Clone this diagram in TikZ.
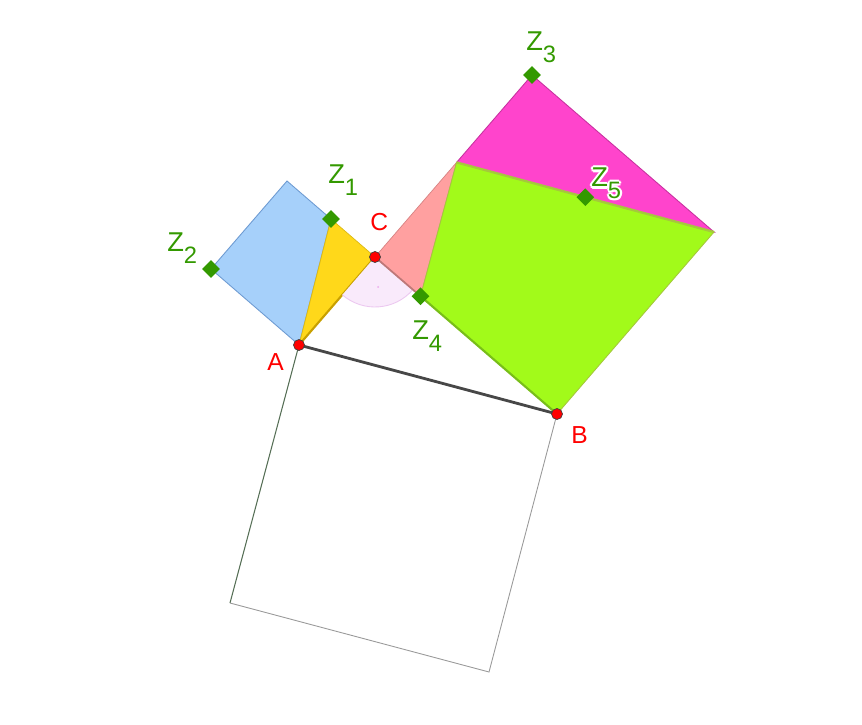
\documentclass[tikz,border=0pt]{standalone}
\usepackage{fontspec}
\setmainfont{Liberation Sans}
\usetikzlibrary{shapes.geometric}

\definecolor{zgreen}{RGB}{51,153,0}
\definecolor{sqblue}{RGB}{166,208,250}
\definecolor{sqblueedge}{RGB}{110,155,210}
\definecolor{sqyellow}{RGB}{255,216,26}
\definecolor{sqyellowedge}{RGB}{220,185,20}
\definecolor{sqgold}{RGB}{200,160,0}
\definecolor{sqpink}{RGB}{255,160,160}
\definecolor{sqpinkedge}{RGB}{215,130,130}
\definecolor{sqrose}{RGB}{190,120,120}
\definecolor{sqmagenta}{RGB}{255,68,204}
\definecolor{sqmagentaedge}{RGB}{200,50,160}
\definecolor{sqlime}{RGB}{162,250,26}
\definecolor{sqlimeedge}{RGB}{165,200,60}
\definecolor{sqlimedark}{RGB}{120,190,25}
\definecolor{sector}{RGB}{249,234,251}
\definecolor{sectoredge}{RGB}{236,200,240}
\definecolor{sectordot}{RGB}{236,170,236}
\definecolor{sideAE}{RGB}{85,110,85}

\newcommand{\zsub}[1]{Z\raisebox{-6.6pt}{\fontsize{13.5}{14}\selectfont #1}}
\newcommand{\halo}[1]{%
    \makebox[0pt][l]{\color{white}%
        \foreach \hx/\hy in {1.2/0,-1.2/0,0/1.2,0/-1.2,.85/.85,-.85/.85,.85/-.85,-.85/-.85} {%
            \makebox[0pt][l]{\hspace*{\hx pt}\raisebox{\hy pt}{#1}}}}%
    #1}

\begin{document}
\begin{tikzpicture}[x=0.02cm,y=0.02cm,
    pt/.style={circle,fill=red,draw=black!75,line width=0.4pt,inner sep=0,minimum size=0.22cm},
    zpt/.style={diamond,fill=zgreen,inner sep=0,minimum size=0.36cm},
    zlab/.style={text=zgreen,anchor=base west,inner sep=0,font=\fontsize{15.5}{16}\selectfont},
    plab/.style={text=red,anchor=base west,inner sep=0,font=\fontsize{14}{15}\selectfont}]
    \useasboundingbox (0,0) rectangle (862,724);

    \coordinate (A) at (299,379);
    \coordinate (B) at (557,310);
    \coordinate (C) at (375,467);
    \coordinate (D) at (489,52);
    \coordinate (E) at (230,121);
    \coordinate (P) at (287,543);
    \coordinate (Q) at (714,492);
    \coordinate (R) at (456.6,561.6);

    \draw[color=gray!80,line width=0.5pt] (E) to (D) to (B);
    \draw[color=sideAE,line width=0.6pt] (A) to (E);

    \filldraw[fill=sqblue,draw=sqblueedge,line width=0.5pt] (A) -- (211,455) -- (P) -- (331,505) -- cycle;
    \filldraw[fill=sqyellow,draw=sqyellowedge,line width=0.4pt] (A) -- (331,505) -- (C) -- cycle;
    \draw[color=sqgold,line width=1.2pt] (A) to (C);

    \fill[sector] (C) -- ++(229.2:50) arc[start angle=229.2,end angle=319.2,radius=50] -- cycle;
    \draw[color=sectoredge,line width=0.5pt] ([shift={(229.2:50)}]C) arc[start angle=229.2,end angle=319.2,radius=50];
    \fill[sectordot] (378,437) circle (1);

    \filldraw[fill=sqpink,draw=sqpinkedge,line width=0.4pt] (C) -- (R) -- (420.5,427.8) -- cycle;
    \draw[color=sqrose,line width=1pt] (C) to (420.5,427.8);
    \filldraw[fill=sqmagenta,draw=sqmagentaedge,line width=0.5pt] (R) -- (532,649) -- (Q) -- cycle;
    \filldraw[fill=sqlime,draw=sqlimeedge,line width=0.5pt] (R) -- (Q) -- (B) -- (420.5,427.8) -- cycle;
    \draw[color=sqlimeedge,line width=1.3pt] (R) to (Q);
    \draw[color=sqlimedark,line width=1.2pt] (420.5,427.8) to (B);

    \draw[color=black!72,line width=1.6pt] (A) to (B);

    \foreach \n/\x/\y in {1/331/505,2/211/455,3/532/649,4/420.5/427.8,5/585.3/526.8} {
        \node[zpt] (Z\n) at (\x,\y) {};
    }
    \node[pt] (ptA) at (A) {};
    \node[pt] (ptB) at (B) {};
    \node[pt] (ptC) at (C) {};

    \node[plab] (labA) at (267,353) {A};
    \node[plab] (labB) at (571,280) {B};
    \node[plab] (labC) at (370,493) {C};

    \node[zlab] (labZ1) at (328,540) {\zsub{1}};
    \node[zlab] (labZ2) at (167,472) {\zsub{2}};
    \node[zlab] (labZ3) at (526,673) {\zsub{3}};
    \node[zlab] (labZ4) at (412,384) {\zsub{4}};
    \node[zlab] (labZ5) at (591,537) {\halo{\zsub{5}}};
\end{tikzpicture}
\end{document}
